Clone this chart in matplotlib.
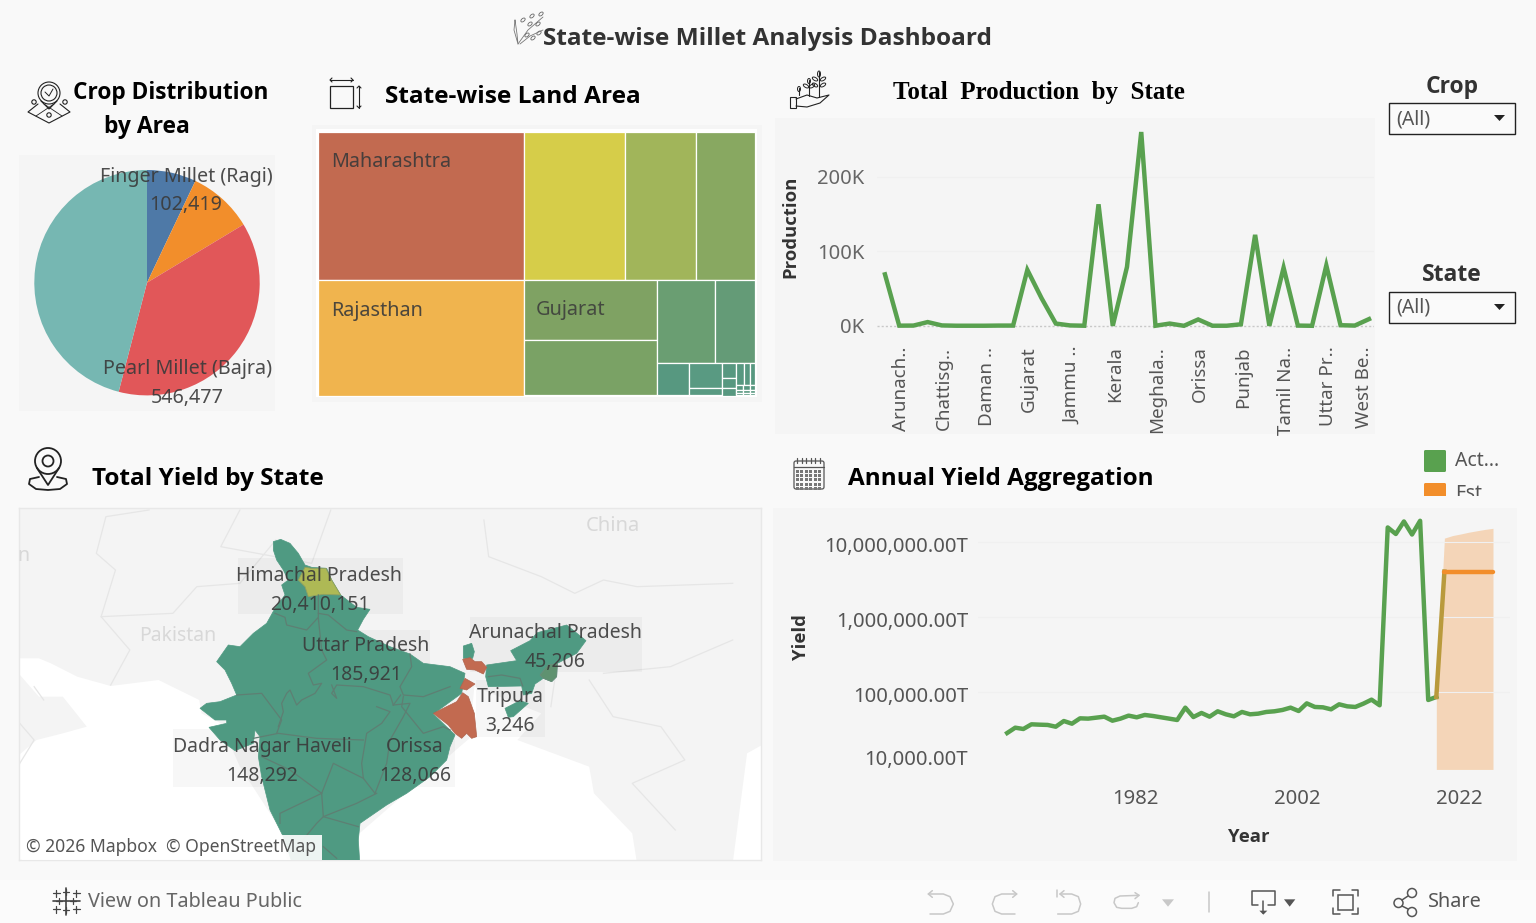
#!/usr/bin/env python3

import matplotlib
matplotlib.use("Agg")
import matplotlib.pyplot as plt
from matplotlib.patches import Circle, Ellipse, FancyBboxPatch, Polygon, Rectangle
from matplotlib.transforms import ScaledTranslation
import numpy as np

plt.rcParams["font.family"] = ["Noto Sans", "DejaVu Sans"]

W, H = 1536, 923

# pie
crop_names = ["Finger Millet (Ragi)", "Little Millet", "Pearl Millet (Bajra)", "Sorghum (Jowar)"]
crop_area = [102419, 135000, 546477, 666500]
crop_colors = ["#4E79A7", "#F28E2B", "#E15759", "#76B7B2"]

# treemap, leaves of treemap_tree index these
treemap_area = [272, 210, 132, 94, 77, 71, 66, 42.5, 30, 9.2, 7.2, 2.1, 1.9, 1.3, 0.9,
                1.4, 1.3, 0.9, 0.3, 0.2, 0.15, 0.3, 0.2, 0.15, 0.2, 0.14, 0.1]
treemap_colors = ["#C26A50", "#F0B44E", "#D6CD49", "#A1B55A", "#88A861", "#7FA263", "#7AA265",
                  "#6A9E72", "#649B77", "#579880", "#599A82", "#599A82", "#579880", "#579880",
                  "#579880", "#579880", "#579880", "#579880", "#579880", "#579880", "#579880",
                  "#579880", "#579880", "#579880", "#579880", "#579880", "#579880"]
treemap_tree = [[0, 1], [[2, 3, 4], [[5, 6], [[7, 8], [9, [10, 11],
                [[[12, 13, 14], [[15, 16, 17], [[18, 19, 20], [21, 22, 23], [24, 25, 26]]]]]]]]]]

# production by state, one value per state, every third one labelled
production = [69000, 200, 300, 5000, 500, 100, 100, 100, 300, 300, 75000, 37000, 3000, 500, 100,
              163000, 0, 79000, 260000, 100, 3000, 0, 8500, 100, 100, 2000, 122000, 0, 78000,
              300, 0, 81000, 800, 300, 9000]
production_ticks = [1, 4, 7, 10, 13, 16, 19, 22, 25, 28, 31, 34]
production_labels = ["Arunach..", "Chattisg..", "Daman ..", "Gujarat", "Jammu ..", "Kerala",
                     "Meghala..", "Orissa", "Punjab", "Tamil Na..", "Uttar Pr..", "West Be.."]

# annual yield
years = list(range(1966, 2020))
actual_yield = [28100, 33100, 31800, 36700, 36300, 36000, 34100, 40600, 37400, 44100, 43700,
                45000, 46400, 41000, 43700, 47900, 45500, 48900, 47400, 45500, 43700, 41900,
                61200, 45900, 52000, 46400, 54700, 49900, 46900, 53600, 49900, 50900, 53600,
                54700, 57000, 61200, 55200, 69800, 62500, 61800, 58100, 67800, 63700, 62500,
                69200, 78200, 65800, 15400000, 12600000, 18500000, 12400000, 18900000, 77400,
                84900]
forecast_years = [2019, 2020, 2021, 2022, 2023, 2024, 2025, 2026]
forecast_yield = [84900, 3980000, 3980000, 3980000, 3980000, 3980000, 3980000, 3980000]
forecast_upper = [84900, 11100000, 12000000, 12600000, 13300000, 13900000, 14500000, 15000000]
forecast_lower = [9200, 9200, 9200, 9200, 9200, 9200, 9200, 9200]
yield_ticks = [10000, 100000, 1000000, 10000000]
yield_labels = ["10,000.00T", "100,000.00T", "1,000,000.00T", "10,000,000.00T"]
year_ticks = [1982, 2002, 2022]

# map shapes, traced in crop units of the map, see crop_a / crop_b / crop_c
india_outline = [(250, 35), (272, 28), (300, 40), (325, 70), (345, 105), (365, 112), (410, 115),
                 (425, 150), (452, 195), (500, 232), (540, 238), (520, 268), (503, 300), (535, 320),
                 (600, 350), (660, 372), (700, 400), (780, 410), (825, 430), (815, 490), (730, 552),
                 (795, 615), (780, 650), (770, 690), (720, 740), (650, 790), (590, 825), (510, 880),
                 (505, 930), (510, 1010), (310, 1010), (280, 920), (240, 840), (215, 740), (205, 680),
                 (210, 620), (195, 600), (190, 640), (135, 662), (90, 630), (57, 592), (110, 580),
                 (110, 570), (75, 570), (30, 535), (50, 520), (90, 515), (140, 495), (125, 460),
                 (105, 420), (80, 395), (115, 345), (150, 350), (190, 310), (230, 280), (255, 235),
                 (285, 195), (275, 165), (295, 150), (280, 120), (260, 90), (250, 60)]
himachal_outline = [(325, 150), (345, 112), (365, 115), (408, 115), (425, 150), (452, 195),
                    (400, 193), (355, 200), (345, 170)]
state_borders = [
    [(255, 250), (285, 262), (290, 285), (330, 295), (350, 300), (385, 262), (385, 195)],
    [(385, 250), (415, 255), (470, 300), (500, 305)],
    [(385, 265), (395, 360), (410, 390), (355, 430), (370, 465), (395, 460), (375, 490), (335, 510),
     (320, 525), (300, 480), (290, 490), (275, 520), (280, 545), (265, 590)],
    [(425, 465), (440, 505), (425, 490), (440, 465), (520, 470), (600, 495), (610, 525)],
    [(660, 372), (665, 410), (630, 470), (640, 495), (700, 500), (780, 470)],
    [(610, 525), (632, 495)],
    [(560, 530), (600, 545), (575, 580), (530, 610), (515, 700), (520, 745), (555, 790)],
    [(610, 525), (660, 520), (640, 560), (600, 630), (590, 700), (555, 790)],
    [(640, 500), (635, 530), (700, 610), (760, 590), (780, 600)],
    [(140, 495), (215, 490), (245, 530), (275, 570), (260, 610)],
    [(190, 625), (265, 610), (380, 625), (520, 630)],
    [(215, 680), (300, 720), (395, 790), (430, 700), (520, 745)],
    [(395, 790), (400, 860), (500, 820), (560, 790)],
    [(270, 880), (270, 850), (395, 790)],
    [(330, 940), (380, 880), (400, 860), (505, 890)],
    [(400, 950), (440, 985)],
]
sikkim_outline = [(130, 108), (155, 100), (163, 125), (158, 145), (130, 145)]
bengal_north = [(128, 148), (150, 143), (165, 155), (185, 155), (200, 172), (190, 192), (165, 180),
                (140, 178)]
bengal_mid = [(135, 205), (165, 222), (140, 240), (120, 235)]
bengal_south = [(128, 248), (145, 260), (163, 310), (170, 380), (155, 385), (140, 370), (125, 385),
                (105, 370), (85, 345), (40, 310), (70, 295), (110, 275)]
assam_outline = [(200, 165), (290, 152), (272, 122), (330, 92), (352, 68), (440, 45), (498, 92),
                 (470, 130), (412, 160), (410, 200), (395, 215), (370, 205), (345, 222), (335, 250),
                 (310, 255), (305, 228), (205, 230), (197, 200)]
nagaland_outline = [(412, 160), (410, 200), (395, 215), (370, 205), (360, 195), (385, 165)]
tripura_outline = [(300, 272), (325, 280), (280, 320), (265, 322), (255, 295)]
meghalaya_border = [(205, 200), (245, 195), (300, 205), (308, 228)]
sea_west = [(-20, 475), (50, 475), (75, 490), (130, 530), (200, 558), (300, 540), (385, 600),
            (390, 640), (430, 670), (470, 800), (560, 1000), (570, 1090), (-20, 1090), (-20, 800),
            (45, 720), (100, 700), (150, 680), (100, 590), (50, 590)]
sea_east = [(720, 1000), (800, 900), (950, 715), (960, 560), (1100, 640), (1050, 720), (1200, 800),
            (1210, 880), (1290, 1000), (1300, 1090), (700, 1090)]
sea_gulf = [(1530, 760), (1580, 720), (1580, 1090), (1500, 1090)]
land_borders = [
    [(280, 30), (190, 50), (170, 160), (210, 210), (180, 350), (240, 450), (200, 555)],
    [(180, 350), (330, 340), (380, 260), (470, 250), (545, 120)],
    [(470, 30), (430, 140), (620, 190), (660, 30)],
    [(980, 60), (990, 170), (1100, 230), (1170, 280), (1230, 240), (1300, 260), (1500, 250)],
    [(1200, 540), (1250, 650), (1350, 680), (1400, 780), (1290, 850), (1380, 990)],
    [(1230, 520), (1370, 500), (1500, 420)],
    [(1060, 540), (1130, 520), (1120, 620)],
    [(40, 560), (60, 600)],
    [(10, 670), (40, 720), (10, 790)],
]

map_labels = [("Himachal Pradesh", "20,410,151", 319.5, 574, 603),
              ("Uttar Pradesh", "185,921", 366, 644, 673),
              ("Arunachal Pradesh", "45,206", 555.5, 631, 660),
              ("Tripura", "3,246", 510, 695, 724),
              ("Dadra Nagar Haveli", "148,292", 262, 745, 774),
              ("Orissa", "128,066", 415, 745, 774)]
map_boxes = [(238, 558, 165, 56), (303, 630, 127, 58), (470, 617, 172, 55), (476, 680, 69, 57),
             (173, 729, 177, 58), (385, 729, 70, 58)]


def crop_a(pts):
    pts = np.array(pts, dtype=float)
    return np.column_stack([190 + pts[:, 0] / 3, 530 + pts[:, 1] / 3])


def crop_b(pts):
    pts = np.array(pts, dtype=float)
    return np.column_stack([420 + pts[:, 0] / 3, 610 + pts[:, 1] / 3])


def crop_c(pts):
    pts = np.array(pts, dtype=float)
    return np.column_stack([15 + pts[:, 0] / 2.09, 500 + pts[:, 1] / 3])


fig = plt.figure(figsize=(W / 100, H / 100), dpi=100, facecolor="#F9F9F9")


def ax_px(x0, y0, x1, y1, **kw):
    ax = fig.add_axes([x0 / W, 1 - y1 / H, (x1 - x0) / W, (y1 - y0) / H], **kw)
    return ax


def nudge(label, dx, dy):
    label.set_transform(label.get_transform() + ScaledTranslation(dx / 100, -dy / 100, fig.dpi_scale_trans))


back = ax_px(0, 0, W, H, zorder=0)
back.set_xlim(0, W)
back.set_ylim(H, 0)
back.axis("off")
for x, y, w, h in [(19, 155, 256, 256), (312, 125, 450, 277), (775, 118, 600, 316), (773, 508, 744, 353)]:
    back.add_patch(Rectangle((x, y), w, h, fc="#F5F5F5", ec="none"))
back.add_patch(Rectangle((0, 880), W, 43, fc="#FBFBFB", ec="none"))
back.add_patch(Rectangle((316, 129), 441, 268, fc="white", ec="none"))

# pie
ax = ax_px(19, 155, 275, 411, zorder=1)
ax.pie(crop_area, colors=crop_colors, startangle=90, counterclock=False, radius=112.7,
       center=(0, 0.3))
ax.set_xlim(-128, 128)
ax.set_ylim(-128, 128)
ax.patch.set_alpha(0)


# treemap
def node_total(node):
    if isinstance(node, list):
        return sum(node_total(n) for n in node)
    return treemap_area[node]


def draw_node(ax, node, x0, y0, x1, y1, columns):
    if not isinstance(node, list):
        ax.add_patch(Rectangle((x0, y0), x1 - x0, y1 - y0, fc=treemap_colors[node],
                               ec="white", lw=0.9))
        return
    total = node_total(node)
    pos = x0 if columns else y0
    for child in node:
        share = node_total(child) / total
        if columns:
            step = (x1 - x0) * share
            draw_node(ax, child, pos, y0, pos + step, y1, False)
        else:
            step = (y1 - y0) * share
            draw_node(ax, child, x0, pos, x1, pos + step, True)
        pos += step


ax = ax_px(318, 131.5, 755, 395.5, zorder=1)
ax.set_xlim(0, 1)
ax.set_ylim(1, 0)
ax.axis("off")
draw_node(ax, treemap_tree, 0, 0, 1, 1, True)

# production line
ax = ax_px(877, 118, 1374, 334, zorder=1)
ax.patch.set_alpha(0)
ax.plot(range(len(production)), production, color="#59A14F", lw=3.2, solid_joinstyle="miter",
        zorder=3)
ax.set_xlim(-0.56, 34.35)
ax.set_ylim(-11000, 278800)
ax.set_yticks([0, 100000, 200000])
ax.set_yticklabels(["0K", "100K", "200K"], fontsize=14.5, color="#666666")
ax.set_xticks(production_ticks)
ax.set_xticklabels(production_labels, rotation=90, fontsize=13.5, color="#555555")
ax.tick_params(length=0)
ax.tick_params(axis="y", pad=9)
ax.tick_params(axis="x", pad=9)
for label in ax.xaxis.get_ticklabels():
    nudge(label, 2, 0)
nudge(ax.xaxis.get_ticklabels()[-1], -7, 0)
for y in [100000, 200000]:
    ax.axhline(y, color="#F0F0F0", lw=0.8, zorder=1)
ax.axhline(0, color="#C8C8C8", lw=1, ls=(0, (1.5, 1.5)), zorder=1)
for s in ax.spines.values():
    s.set_visible(False)

# yield line
ax = ax_px(978, 510, 1510, 770, zorder=1)
ax.patch.set_alpha(0)
ax.set_yscale("log")
ax.fill_between(forecast_years, forecast_lower, forecast_upper, color="#F28E2B", alpha=0.3, lw=0)
ax.plot(years, actual_yield, color="#59A14F", lw=3.2, solid_joinstyle="round", zorder=3)
ax.plot(forecast_years[:2], forecast_yield[:2], color="#B99A3C", lw=3.2, zorder=3)
ax.plot(forecast_years[1:], forecast_yield[1:], color="#F28E2B", lw=3.2, zorder=3,
        solid_capstyle="round")
ax.set_xlim(1962.4, 2028.1)
ax.set_ylim(10 ** 3.956, 10 ** 7.42)
ax.set_yticks(yield_ticks)
ax.set_yticklabels(yield_labels, fontsize=14.6, color="#555555")
ax.minorticks_off()
ax.set_xticks(year_ticks)
ax.set_xticklabels([str(y) for y in year_ticks], fontsize=14.6, color="#555555")
ax.tick_params(length=0)
ax.tick_params(axis="y", pad=7)
ax.tick_params(axis="x", pad=14)
for label in ax.yaxis.get_ticklabels():
    nudge(label, 0, 3)
nudge(ax.yaxis.get_ticklabels()[0], 0, -12)
for label in ax.xaxis.get_ticklabels():
    nudge(label, -1, 0)
for y in yield_ticks[1:]:
    ax.axhline(y, color="#F0F0F0", lw=0.8, zorder=1)
for s in ax.spines.values():
    s.set_visible(False)

# map
ax = ax_px(19, 508, 761, 860, zorder=1)
ax.set_xlim(19, 761)
ax.set_ylim(860, 508)
ax.set_xticks([])
ax.set_yticks([])
ax.set_facecolor("#F4F4F4")
for s in ax.spines.values():
    s.set_color("#E8E8E8")
    s.set_linewidth(1)
for sea in [sea_west, sea_east, sea_gulf]:
    ax.add_patch(Polygon(crop_c(sea), fc="white", ec="none", zorder=1))
for line in land_borders:
    pts = crop_c(line)
    ax.plot(pts[:, 0], pts[:, 1], color="#E6E6E6", lw=0.9, zorder=2)
for x, y, w, h in map_boxes:
    ax.add_patch(Rectangle((x, y), w, h, fc="black", alpha=0.03, ec="none", zorder=3))
ax.add_patch(Polygon(crop_a(india_outline), fc="#4F9A82", ec="#4F9A82", lw=0.5, zorder=4))
for shape in [assam_outline, sikkim_outline, tripura_outline]:
    ax.add_patch(Polygon(crop_b(shape), fc="#4F9A82", ec="#4F9A82", lw=0.5, zorder=4))
ax.add_patch(Polygon(crop_b(nagaland_outline), fc="#5F9270", ec="#6E8A7C", lw=0.5, zorder=5))
for shape in [bengal_north, bengal_mid, bengal_south]:
    ax.add_patch(Polygon(crop_b(shape), fc="#C26A50", ec="#B0644E", lw=0.5, zorder=5))
ax.add_patch(Polygon(crop_a(himachal_outline), fc="#AEB955", ec="#8FA060", lw=0.6, zorder=5))
for line in state_borders:
    pts = crop_a(line)
    ax.plot(pts[:, 0], pts[:, 1], color="#5E7F73", lw=0.9, zorder=5)
pts = crop_b(meghalaya_border)
ax.plot(pts[:, 0], pts[:, 1], color="#5E7F73", lw=0.9, zorder=5)
ax.add_patch(Rectangle((22, 835), 300, 26, fc="white", alpha=0.9, ec="none", zorder=6))

# everything else sits on one overlay in image pixels
top = ax_px(0, 0, W, H, zorder=5)
top.set_xlim(0, W)
top.set_ylim(H, 0)
top.axis("off")
top.patch.set_alpha(0)


def txt(x, y, s, size=14, color="#3A3A3A", ha="center", va="center", weight="normal", **kw):
    if weight == "bold" and "family" not in kw:
        kw["family"] = ["Open Sans", "DejaVu Sans"]
    return top.text(x, y + 2, s, fontsize=size, color=color, ha=ha, va=va, weight=weight, **kw)


txt(767.5, 37, "State-wise Millet Analysis Dashboard", size=17.6, color="#333333", weight="bold")
txt(73, 91, "Crop Distribution", size=16.3, color="black", ha="left", weight="bold")
txt(147, 125, "by Area", size=16.5, color="black", weight="bold")
txt(385, 95, "State-wise Land Area", size=17.6, color="black", ha="left", weight="bold")
txt(893, 90, "Total  Production  by  State", size=18, color="black", ha="left", weight="bold",
    family="Liberation Serif")
txt(92, 477, "Total Yield by State", size=17.6, color="black", ha="left", weight="bold")
txt(848, 477, "Annual Yield Aggregation", size=17.5, color="black", ha="left", weight="bold")

txt(186, 175, crop_names[0], size=14.2, alpha=0.9)
txt(186, 203, f"{crop_area[0]:,}", size=14.2, alpha=0.9)
txt(188, 367, crop_names[2], size=14.2, alpha=0.9)
txt(187, 396, f"{crop_area[2]:,}", size=14.2, alpha=0.9)

txt(331, 160, "Maharashtra", size=14.3, ha="left", alpha=0.9)
txt(331, 309, "Rajasthan", size=14.3, ha="left", alpha=0.9)
txt(536, 308, "Gujarat", size=14.3, ha="left", alpha=0.85)

txt(790, 225, "Production", size=13.3, color="#333333", weight="bold", rotation=90)
txt(801, 635, "Yield", size=13.3, color="#333333", weight="bold", rotation=90)
txt(1249, 835, "Year", size=13.3, color="#333333", weight="bold")

for name, value, x, y1, y2 in map_labels:
    txt(x, y1, name, size=14, alpha=0.9)
    txt(x, y2, value, size=14, alpha=0.9)
txt(613, 524, "China", size=14.5, color="#D8D8D8")
txt(178, 634, "Pakistan", size=14, color="#D8D8D8")
txt(23, 554, "n", size=14, color="#D8D8D8")
txt(26, 845, "© 2026 Mapbox  © OpenStreetMap", size=12.6, color="#555555", ha="left")

# filters
for label, y_label, y_box in [("Crop", 85, 103), ("State", 273, 292)]:
    txt(1452, y_label, label, size=16.5, color="#333333", weight="bold")
    top.add_patch(Rectangle((1388.5, y_box - 0.5), 126, 31, fc="#FAFAFA", ec="#222222", lw=1))
    txt(1396, y_box + 14, "(All)", size=14, color="#555555", ha="left")
    top.add_patch(Polygon([(1494, y_box + 12), (1505, y_box + 12), (1499.5, y_box + 18)], fc="#222222",
                          ec="none"))

# legend, the second row is cut off by its box
top.add_patch(FancyBboxPatch((1424, 450), 22, 22, boxstyle="round,pad=0,rounding_size=1.5",
                             fc="#59A14F", ec="none"))
txt(1455, 459, "Act...", size=14, color="#555555", ha="left")
clip = Rectangle((1400, 475), 130, 21, transform=top.transData)
p = FancyBboxPatch((1424, 483), 22, 22, boxstyle="round,pad=0,rounding_size=1.5", fc="#F28E2B",
                   ec="none")
top.add_patch(p)
p.set_clip_path(clip)
t = txt(1455, 492, "Est", size=14, color="#555555", ha="left")
t.set_clip_path(clip)
t.set_clip_on(True)


# icons
def pl(pts, color="#222222", lw=0.8, **kw):
    pts = np.array(pts, dtype=float)
    top.plot(pts[:, 0], pts[:, 1], color=color, lw=lw, solid_capstyle="round", **kw)


def ring(x, y, r, color="#222222", lw=0.8):
    top.add_patch(Circle((x, y), r, fc="none", ec=color, lw=lw))


def leaf(x, y, w=5, h=3, angle=-40, color="#666666", lw=0.6):
    top.add_patch(Ellipse((x, y), w, h, angle=angle, fc="none", ec=color, lw=lw))


# sprig in the title
pl([(518, 44), (528, 30), (543, 17)], color="#777777", lw=0.6)
pl([(520, 44), (530, 36), (543, 30)], color="#777777", lw=0.6)
pl([(515, 20), (517, 34), (518, 44), (514, 30), (515, 20)], color="#777777", lw=0.6)
for x, y in [(523, 20), (532, 16), (541, 14), (530, 24), (538, 24), (527, 35), (533, 38), (539, 33)]:
    leaf(x, y)

# crop area icon
ring(49, 93, 11)
ring(49, 93, 8)
pl([(41, 101), (49, 109), (57, 101)])
pl([(45, 92), (49, 96), (53, 89)], lw=0.7)
pl([(38, 104), (28, 112), (49, 123), (70, 112), (60, 104)])
pl([(36, 116), (54, 104)], lw=0.6)
pl([(62, 116), (44, 104)], lw=0.6)
ring(34, 102, 2.2)
ring(65, 102, 2.2)
ring(49, 115, 2.2)

# land area icon
top.add_patch(Rectangle((330, 86), 23, 22, fc="none", ec="#222222", lw=0.9))
pl([(330, 80), (353, 80)], lw=0.8)
pl([(332, 78), (330, 80), (332, 82)], lw=0.8)
pl([(351, 78), (353, 80), (351, 82)], lw=0.8)
pl([(359, 86), (359, 108)], lw=0.8)
pl([(357, 88), (359, 86), (361, 88)], lw=0.8)
pl([(357, 106), (359, 108), (361, 106)], lw=0.8)

# production icon
top.add_patch(Rectangle((790, 97), 6, 11, fc="none", ec="#222222", lw=0.8))
pl([(796, 99), (807, 95), (817, 98), (829, 95), (820, 103), (807, 107), (796, 106)])
pl([(819, 72), (819, 97)])
pl([(809, 80), (809, 96)])
pl([(799, 88), (799, 95)])
for x, y, a in [(815, 79, 30), (823, 79, -30), (815, 85, 30), (823, 85, -30), (806, 86, 30),
                (812, 86, -30)]:
    leaf(x, y, w=6, h=3, angle=a, color="#222222", lw=0.7)
leaf(819, 74, w=3, h=6, angle=0, color="#222222", lw=0.7)
leaf(809, 81, w=3, h=5, angle=0, color="#222222", lw=0.7)
leaf(799, 89, w=3, h=5, angle=0, color="#222222", lw=0.7)

# pin icon
ring(48, 461, 13, lw=1.3)
ring(48, 461, 5.5, lw=1.3)
pl([(37, 468), (48, 485), (59, 468)], lw=1.3)
pl([(39, 477), (30, 479), (29, 484), (36, 489), (48, 490), (60, 489), (67, 484), (66, 479), (57, 477)],
   lw=1.3)

# calendar icon
top.add_patch(FancyBboxPatch((794, 461), 30, 28, boxstyle="round,pad=0,rounding_size=2", fc="none",
                             ec="#555555", lw=0.9))
pl([(794, 467), (824, 467)], color="#555555", lw=0.9)
for x in np.arange(797, 823, 4.5):
    pl([(x, 458), (x, 463)], color="#555555", lw=0.9)
    for y in np.arange(470, 488, 4.2):
        top.add_patch(Rectangle((x - 1.2, y), 3, 3, fc="#777777", ec="none"))


# toolbar
def crop_t(pts):
    pts = np.array(pts, dtype=float)
    return np.column_stack([915 + pts[:, 0] / 3, 880 + pts[:, 1] / 3])


soft = "#C8C8C8"
dark = "#555555"
txt(88, 900, "View on Tableau Public", size=14.3, color="#666666", ha="left")
pl([(66, 888), (66, 915)], color="#444444", lw=1.2)
pl([(53, 901), (80, 901)], color="#444444", lw=1.2)
for x, y, a in [(56, 893, 3.5), (76, 893, 3.5), (56, 909, 3.5), (76, 909, 3.5), (59, 901, 3),
                (73, 901, 3), (66, 892, 3), (66, 910, 3)]:
    pl([(x - a, y), (x + a, y)], color="#444444", lw=0.9)
    pl([(x, y - a), (x, y + a)], color="#444444", lw=0.9)
pl(crop_t([(52, 32), (40, 42), (52, 52)]), color=soft, lw=1.1)
pl(crop_t([(40, 42), (85, 42), (105, 50), (115, 72), (105, 94), (85, 102), (45, 102)]), color=soft, lw=1.1)
pl(crop_t([(293, 32), (305, 42), (293, 52)]), color=soft, lw=1.1)
pl(crop_t([(305, 42), (260, 42), (240, 50), (232, 72), (240, 94), (260, 102), (300, 102)]), color=soft, lw=1.1)
pl(crop_t([(425, 30), (425, 52)]), color=soft, lw=1.1)
pl(crop_t([(447, 32), (435, 42), (447, 52)]), color=soft, lw=1.1)
pl(crop_t([(435, 42), (470, 42), (490, 50), (497, 72), (490, 94), (470, 102), (428, 102)]), color=soft, lw=1.1)
pl(crop_t([(660, 38), (672, 46), (660, 56)]), color=soft, lw=1.1)
pl(crop_t([(672, 46), (615, 48), (600, 55), (597, 68), (605, 82), (620, 85), (650, 85), (665, 80), (670, 68)]),
   color=soft, lw=1.1)
top.add_patch(Polygon(crop_t([(741, 58), (777, 58), (759, 80)]), fc=soft, ec="none"))
pl(crop_t([(881, 35), (881, 95)]), color=soft, lw=1.1)
pl(crop_t([(1030, 75), (1010, 75), (1010, 32), (1080, 32), (1080, 75), (1058, 75)]), color=dark, lw=1.1)
pl(crop_t([(1045, 62), (1045, 100)]), color=dark, lw=1.1)
top.add_patch(Polygon(crop_t([(1033, 92), (1057, 92), (1045, 104)]), fc=dark, ec="none"))
top.add_patch(Polygon(crop_t([(1107, 58), (1141, 58), (1124, 80)]), fc=dark, ec="none"))
pl(crop_t([(1255, 48), (1255, 30), (1275, 30)]), color=dark, lw=1.1)
pl(crop_t([(1310, 30), (1330, 30), (1330, 48)]), color=dark, lw=1.1)
pl(crop_t([(1255, 85), (1255, 103), (1275, 103)]), color=dark, lw=1.1)
pl(crop_t([(1310, 103), (1330, 103), (1330, 85)]), color=dark, lw=1.1)
top.add_patch(Rectangle((1338, 895), 15, 15, fc="none", ec=dark, lw=1.1))
ring(1398.5, 903, 4.5, color=dark, lw=1.1)
ring(1412, 893, 4.5, color=dark, lw=1.1)
ring(1412, 912, 4.5, color=dark, lw=1.1)
pl([(1402, 900), (1408, 896)], color=dark, lw=1.1)
pl([(1402, 906), (1408, 909)], color=dark, lw=1.1)
txt(1428, 900, "Share", size=14.3, color="#555555", ha="left")

fig.savefig("out.png", dpi=100, facecolor=fig.get_facecolor())
